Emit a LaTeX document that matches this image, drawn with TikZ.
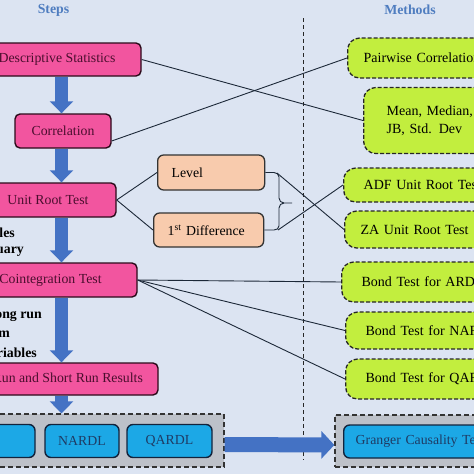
\documentclass[tikz,border=0pt]{standalone}
\usepackage{fontspec}
\setmainfont{Liberation Serif}
\usetikzlibrary{arrows.meta,calc}
\definecolor{bg}{HTML}{DCE4F2}
\definecolor{pinkf}{HTML}{F2559F}
\definecolor{pinkt}{HTML}{4A0E2E}
\definecolor{pinkd}{HTML}{2B0A1A}
\definecolor{arrowblue}{HTML}{4472C4}
\definecolor{orangef}{HTML}{F8CBAD}
\definecolor{greenf}{HTML}{C2EE3E}
\definecolor{cyanf}{HTML}{1CA8E6}
\definecolor{navy}{HTML}{1F3B64}
\definecolor{grayf}{HTML}{BDC1C9}
\definecolor{titleblue}{HTML}{4F7DC0}
\definecolor{linec}{HTML}{1C2838}
\tikzset{
  pinkbox/.style={draw=pinkd, line width=1.4pt, fill=pinkf, rounded corners=5pt, text=pinkt,
    font=\fontsize{13.8}{16}\selectfont, inner sep=0pt},
  greenbox/.style={draw=black!85, dash pattern=on 4pt off 2pt, line width=1.3pt, fill=greenf,
    rounded corners=12pt, anchor=west, align=left, font=\fontsize{14}{18.5}\selectfont,
    inner ysep=0pt, minimum width=180pt},
  orangebox/.style={draw=black!80, line width=1.3pt, fill=orangef, rounded corners=6pt,
    anchor=west, align=left, inner xsep=14pt, inner ysep=0pt, font=\fontsize{13.8}{16}\selectfont},
  cyanbox/.style={draw=navy!60!black, line width=1.4pt, fill=cyanf, rounded corners=6pt,
    text=navy, font=\fontsize{13.8}{16}\selectfont, inner sep=0pt},
  grpbox/.style={draw=black!80, dash pattern=on 5pt off 3pt, line width=1.3pt, fill=grayf, inner sep=0pt},
  titletext/.style={text=titleblue, font=\bfseries\fontsize{13.8}{16}\selectfont},
  fragtext/.style={anchor=east, inner sep=0pt, font=\bfseries\fontsize{13.8}{16}\selectfont},
  conn/.style={draw=linec, line width=0.9pt},
  bigarrow/.style={draw=arrowblue, line width=13pt, -{Triangle[width=23pt,length=12pt]}},
  hugearrow/.style={draw=arrowblue, line width=15pt, -{Triangle[width=27pt,length=13pt]}},
  divider/.style={draw=black!85, line width=1pt, dash pattern=on 4pt off 3pt}
}
\begin{document}
\begin{tikzpicture}[x=1pt,y=-1pt]
\useasboundingbox (0,0) rectangle (474,474);
\fill[bg] (0,0) rectangle (474,474);
\begin{scope}
\clip (0,0) rectangle (474,474);

% titles
\node[titletext] (steps) at (53.5,10) {Steps};
\node[titletext] (methods) at (410,10) {Methods};

% divider
\coordinate (vt) at (303,18);
\coordinate (vb) at (303,460);
\draw[divider] (vt) -- (vb);

% pink steps
\node[pinkbox, minimum width=168pt, minimum height=33pt] (desc) at (57,59.5) {Descriptive Statistics};
\node[pinkbox, minimum width=96pt, minimum height=34pt] (corr) at (63,131) {Correlation};
\node[pinkbox, minimum width=136pt, minimum height=34pt] (unit) at (48,200) {Unit Root Test};
\node[pinkbox, minimum width=173pt, minimum height=34pt] (coint) at (50.5,280) {Cointegration Test};
\node[pinkbox, minimum width=213pt, minimum height=32pt] (lsr) at (51.5,379) {Long Run and Short Run Results};

% bold fragments
\node[fragtext] (f1) at (15,233) {les};
\node[fragtext] (f2) at (24,252) {uary};
\node[fragtext] (f3) at (42,316) {ong run};
\node[fragtext] (f4) at (10,334) {m};
\node[fragtext] (f5) at (37,353) {riables};

% bottom groups
\node[grpbox, minimum width=264pt, minimum height=53pt] (g1) at (92,440.5) {};
\node[cyanbox, minimum width=55pt, minimum height=33pt] (c1) at (7.5,441) {};
\node[cyanbox, minimum width=74pt, minimum height=33pt] (nardl) at (82,441) {NARDL};
\node[cyanbox, minimum width=85pt, minimum height=33pt] (qardl) at (169.5,441) {QARDL};
\node[grpbox, minimum width=185pt, minimum height=52pt] (g2) at (427.5,441) {};
\node[cyanbox, anchor=west, align=left, inner xsep=12pt, text width=148pt, minimum height=33pt] (gran) at (343,441.5) {Granger Causality Test};

% block arrows
\coordinate (ax) at (61.5,0);
\draw[bigarrow] (desc.south -| ax) -- (corr.north -| ax);
\draw[bigarrow] (corr.south -| ax) -- (unit.north -| ax);
\draw[bigarrow] (unit.south -| ax) -- (coint.north -| ax);
\draw[bigarrow] (coint.south -| ax) -- (lsr.north -| ax);
\draw[bigarrow] (lsr.south -| ax) -- (g1.north -| ax);
\draw[hugearrow] ([yshift=-4pt]g1.east) -- ([yshift=-4pt]g2.west);

% orange boxes
\node[orangebox, minimum width=107pt, minimum height=35pt, text width=79pt] (level) at (157,172.5) {Level};
\node[orangebox, minimum width=110pt, minimum height=34pt, text width=82pt] (diff) at (153,230) {1\textsuperscript{st} Difference};

% green method boxes
\node[greenbox, minimum height=40pt, inner xsep=16pt, text width=148pt] (pw) at (347,58) {Pairwise Correlation};
\node[greenbox, minimum height=66pt, inner xsep=18pt, text width=134pt] (mean) at (363,120.5) {Mean, Median,\\JB, Std. Dev};
\node[greenbox, minimum height=34pt, inner xsep=14pt, text width=140pt] (adf) at (343,185) {ADF Unit Root Test};
\node[greenbox, minimum height=37pt, inner xsep=11pt, text width=148pt] (za) at (344,229.5) {ZA Unit Root Test};
\node[greenbox, minimum height=40pt, inner xsep=18pt, text width=140pt] (ardl) at (341,282) {Bond Test for ARDL};
\node[greenbox, minimum height=37pt, inner xsep=17pt, text width=140pt] (nar) at (345,330.5) {Bond Test for NARDL};
\node[greenbox, minimum height=40pt, inner xsep=17pt, text width=140pt] (qar) at (345,379) {Bond Test for QARDL};

% connectors
\draw[conn] (desc.east) -- (mean.west);
\draw[conn] ([yshift=-10pt]corr.east) -- (pw.west);
\draw[conn] (unit.east) -- (level.west);
\draw[conn] (unit.east) -- (diff.west);
\coordinate (bt) at (277,173);
\coordinate (bb) at (278,230);
\coordinate (btip) at (292,203);
\draw[conn] (level.east) -- (274,172.5) to[out=0,in=90] (279,177) -- (279,198)
  to[out=-90,in=180] (284,203) -- (btip);
\draw[conn] (284,203) to[out=180,in=90] (279,208) -- (279,226) to[out=-90,in=0] (274,230) -- (diff.east);
\draw[conn] (bt) -- (za.west);
\draw[conn] (bb) -- (adf.west);
\draw[conn] (coint.east) -- (ardl.west);
\draw[conn] (coint.east) -- (nar.west);
\draw[conn] (coint.east) -- (qar.west);

\end{scope}
\end{tikzpicture}
\end{document}
